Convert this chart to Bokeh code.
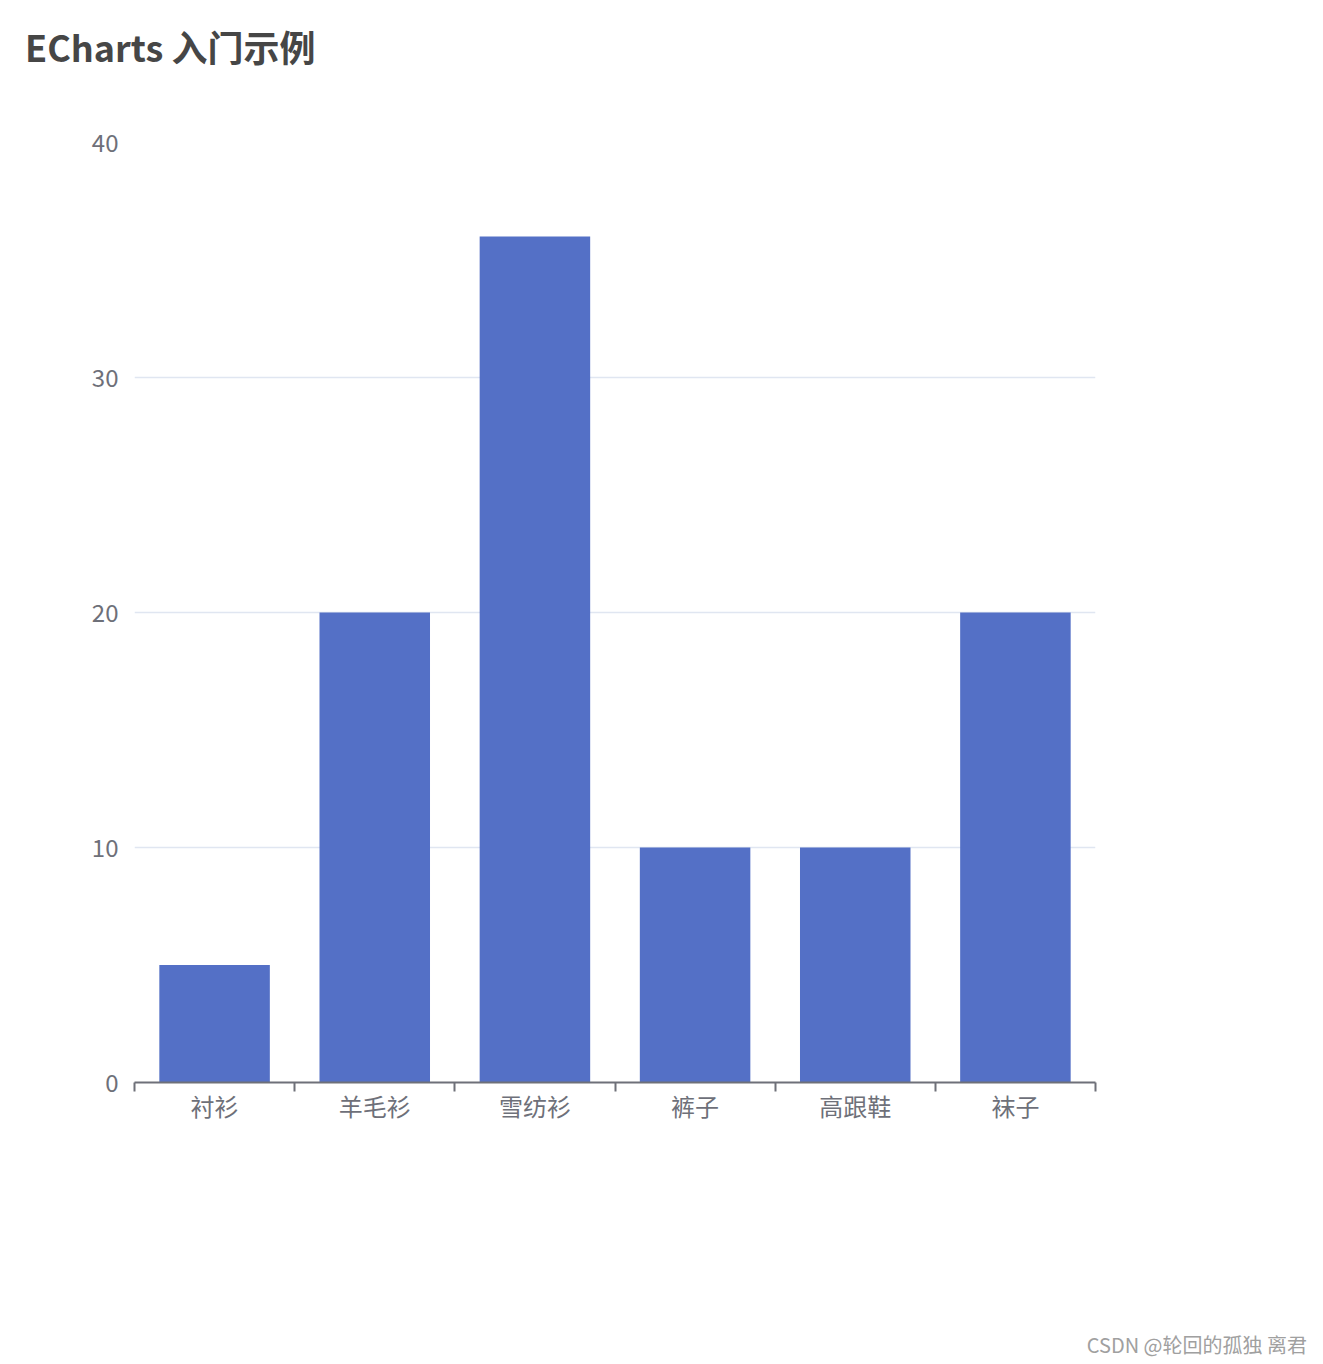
from bokeh.plotting import figure
from bokeh.layouts import column
from bokeh.models import (ColumnDataSource, Range1d, LinearAxis, FixedTicker, Div)
from bokeh.embed import file_html
from bokeh.resources import INLINE

categories = ["衬衫", "羊毛衫", "雪纺衫", "裤子", "高跟鞋", "袜子"]
sales = [5, 20, 36, 10, 10, 20]
y_ticks = [0, 10, 20, 30, 40]
title_text = "ECharts 入门示例"
watermark_text = "CSDN @轮回的孤独 离君"

FONT = "Noto Sans CJK SC"
AXIS_COLOR = "#6E7079"
W = 1315
TOP_H, MAIN_H, BOT_H = 100, 1200, 60
FL, FR, FT, FB = 134, 1095, 142, 1082  # frame edges on the page

n = len(categories)
centers = [i + 0.5 for i in range(n)]
bounds = list(range(n + 1))

p = figure(width=W, height=MAIN_H, x_range=Range1d(0, n),
           y_range=Range1d(0, 40), output_backend="svg", toolbar_location=None,
           x_axis_location=None, y_axis_location=None,
           min_border_left=FL, min_border_right=W - FR, min_border_top=FT - TOP_H,
           min_border_bottom=TOP_H + MAIN_H - FB)
p.outline_line_color = None
p.background_fill_color = "white"
p.border_fill_color = "white"

src = ColumnDataSource(dict(x=centers, cat=categories, val=sales))
p.vbar(x="x", top="val", width=0.69, source=src, color="#5470C6", line_color=None)

# y axis (labels only)
yax = LinearAxis(ticker=FixedTicker(ticks=y_ticks, minor_ticks=[]))
yax.axis_line_color = None
yax.major_tick_line_color = None
yax.minor_tick_line_color = None
yax.major_label_text_font = FONT
yax.major_label_text_font_size = "24px"
yax.major_label_text_color = AXIS_COLOR
yax.major_label_standoff = 10
p.add_layout(yax, "left")

p.ygrid.ticker = FixedTicker(ticks=y_ticks)
p.ygrid.grid_line_color = "#E0E6F1"
p.ygrid.grid_line_width = 1.5
p.xgrid.grid_line_color = None

# x axis: labels at category centers, tick marks at category boundaries
xax = LinearAxis(ticker=FixedTicker(ticks=centers, minor_ticks=bounds),
                 major_label_overrides={c: s for c, s in zip(centers, categories)})
xax.axis_line_color = AXIS_COLOR
xax.axis_line_width = 2
xax.major_tick_line_color = None
xax.major_tick_in = 0
xax.major_tick_out = 0
xax.minor_tick_line_color = AXIS_COLOR
xax.minor_tick_line_width = 2
xax.minor_tick_in = 0
xax.minor_tick_out = 9
xax.major_label_text_font = FONT
xax.major_label_text_font_size = "24px"
xax.major_label_text_color = AXIS_COLOR
xax.major_label_standoff = -4
p.add_layout(xax, "below")

# title strip
top = Div(text=(f'<div style="padding:26px 0 0 25px;margin:0;font-family:\'{FONT}\';'
                f'font-size:36px;font-weight:bold;line-height:40px;color:#464646;'
                f'white-space:nowrap">{title_text}</div>'),
          width=W, height=TOP_H, margin=0)

# watermark strip (right edge of the text at x = 1307)
bot = Div(text=(f'<div style="width:1307px;box-sizing:border-box;padding:30px 0 0 0;'
                f'margin:0;font-family:\'{FONT}\';font-size:20px;line-height:30px;'
                f'color:#a0a0a0;text-align:right;white-space:nowrap">'
                f'{watermark_text}</div>'),
          width=W, height=BOT_H, margin=0)

layout = column(top, p, bot, spacing=0)
open("out.html", "w").write(file_html(layout, INLINE))
